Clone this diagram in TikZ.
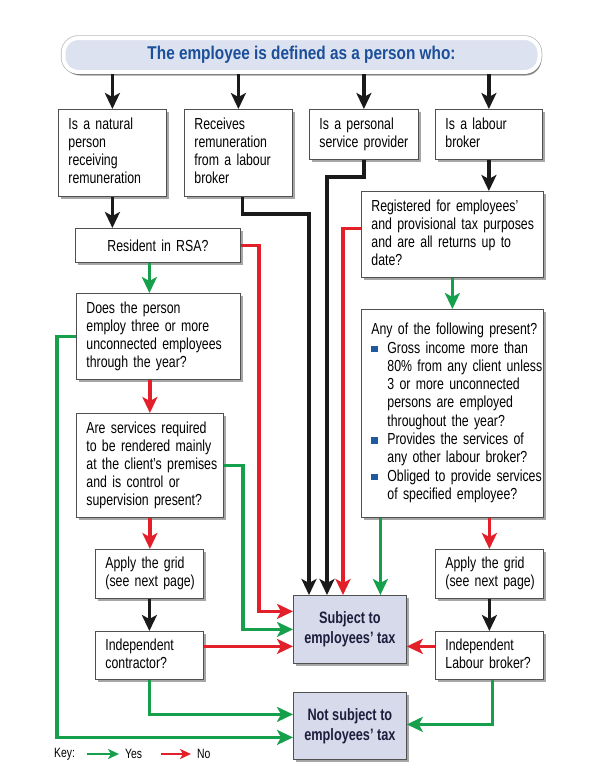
\documentclass[tikz,border=0pt]{standalone}
\usepackage{fontspec}
\setmainfont[FakeStretch=0.77]{Liberation Sans}
\newfontfamily\titlefont[FakeStretch=0.83]{Liberation Sans}
\usetikzlibrary{arrows.meta,shadows,calc}
\definecolor{gr}{HTML}{17A04B}
\definecolor{rd}{HTML}{E3202A}
\definecolor{bk}{HTML}{1A1A1A}
\definecolor{ttl}{HTML}{1B4F9A}
\definecolor{banfill}{HTML}{DDE2F0}
\definecolor{subfill}{HTML}{D6DAEB}
\definecolor{bulc}{HTML}{1F5AA0}
\definecolor{edge}{HTML}{505050}
\definecolor{navy}{HTML}{1D1D3D}
\newcommand\mybul{\makebox[16pt][l]{\raisebox{1pt}{\textcolor{bulc}{\rule{6.5pt}{6.5pt}}}}}
\newcommand\tb[1]{\begin{tabular}{@{}l@{}}#1\end{tabular}}
\begin{document}
\begin{tikzpicture}[x=1pt,y=-1pt,
  box/.style={draw=edge, line width=0.8pt, fill=white, anchor=north west,
    inner xsep=10pt, inner ysep=0pt, align=left,
    font=\fontsize{16}{18}\selectfont,
    drop shadow={shadow xshift=2.5pt, shadow yshift=-2.5pt, opacity=0.35, fill=black}},
  sbox/.style={draw=edge, line width=0.8pt, fill=subfill, anchor=north west,
    inner sep=0pt, align=center, text=navy,
    font=\bfseries\fontsize{16.5}{20}\selectfont,
    drop shadow={shadow xshift=2.5pt, shadow yshift=-2.5pt, opacity=0.35, fill=black}},
  arr/.style={line width=3.6pt, line join=miter, -{Stealth[length=16pt,width=15pt,inset=4pt]}},
  karr/.style={line width=2.8pt, -{Stealth[length=11pt,width=10pt,inset=3pt]}},
  keytxt/.style={font=\fontsize{13.5}{15}\selectfont, inner sep=0pt, anchor=west}
]
\useasboundingbox (0,0) rectangle (590,769);

% banner
\node[draw=white, line width=4pt, fill=banfill, rounded corners=15pt,
  preaction={draw=gray!55, line width=5.5pt},
  drop shadow={shadow xshift=1.5pt, shadow yshift=-3.5pt, opacity=0.4, fill=black},
  minimum width=476pt, minimum height=34pt, inner sep=0pt,
  font=\titlefont\bfseries\fontsize{18.5}{20}\selectfont, text=ttl]
  (ban) at (301.5,55) {The employee is defined as a person who:};

% top row
\node[box, minimum width=108pt, minimum height=87pt, text width=88pt] (b1) at (58,109)
  {\tb{Is a natural\\person\\receiving\\remuneration}};
\node[box, minimum width=108pt, minimum height=87pt, text width=88pt] (b2) at (184,109)
  {\tb{Receives\\remuneration\\from a labour\\broker}};
\node[box, minimum width=109pt, minimum height=50pt, text width=89pt] (b3) at (309,109)
  {\tb{Is a personal\\service provider}};
\node[box, minimum width=107pt, minimum height=50pt, text width=87pt] (b4) at (435,109)
  {\tb{Is a labour\\broker}};

% left column
\node[box, minimum width=165pt, minimum height=34pt, text width=145pt, align=center] (res) at (75,228)
  {Resident in RSA?};
\node[box, minimum width=164pt, minimum height=86pt, text width=144pt] (does) at (76,293)
  {\tb{Does the person\\employ three or more\\unconnected employees\\through the year?}};
\node[box, minimum width=147pt, minimum height=104pt, text width=127pt] (are) at (76,413)
  {\tb{Are services required\\to be rendered mainly\\at the client’s premises\\and is control or\\supervision present?}};
\node[box, minimum width=108pt, minimum height=49pt, text width=88pt] (ag1) at (95,549)
  {\tb{Apply the grid\\(see next page)}};
\node[box, minimum width=108pt, minimum height=48pt, text width=88pt] (ind1) at (95,631)
  {\tb{Independent\\contractor?}};

% right column
\node[box, minimum width=182pt, minimum height=86pt, text width=162pt] (reg) at (361,191)
  {\tb{Registered for employees’\\and provisional tax purposes\\and are all returns up to\\date?}};
\node[box, minimum width=182pt, minimum height=208pt, text width=162pt,
  font=\fontsize{16}{18.3}\selectfont] (any) at (361,309)
  {\begin{tabular}{@{}l@{}l@{}}
   \multicolumn{2}{@{}l@{}}{Any of the following present?}\\
   \mybul & Gross income more than\\
   & 80\% from any client unless\\
   & 3 or more unconnected\\
   & persons are employed\\
   & throughout the year?\\
   \mybul & Provides the services of\\
   & any other labour broker?\\
   \mybul & Obliged to provide services\\
   & of specified employee?
   \end{tabular}};
\node[box, minimum width=108pt, minimum height=49pt, text width=88pt] (ag2) at (435,549)
  {\tb{Apply the grid\\(see next page)}};
\node[box, minimum width=108pt, minimum height=48pt, text width=88pt] (ind2) at (435,631)
  {\tb{Independent\\Labour broker?}};

% outcomes
\node[sbox, minimum width=113pt, minimum height=68pt] (sub) at (293,595)
  {Subject to\\employees’ tax};
\node[sbox, minimum width=113pt, minimum height=67pt] (nsub) at (293,692)
  {Not subject to\\employees’ tax};

% arrows from banner
\draw[arr,bk] (ban.south -| b1.north) -- (b1.north);
\draw[arr,bk] (ban.south -| b2.north) -- (b2.north);
\draw[arr,bk] (ban.south -| b3.north) -- (b3.north);
\draw[arr,bk] (ban.south -| b4.north) -- (b4.north);

% top row connectors
\draw[arr,bk] (b1.south) -- (b1.south |- res.north);
\draw[arr,bk] ([xshift=4pt]b2.south) -- ++(0,17) -| ([xshift=16pt]sub.north west);
\draw[arr,bk] (b3.south) -- ++(0,17) -| ([xshift=34pt]sub.north west);
\draw[arr,bk] (b4.south) -- (b4.south |- reg.north);

% left column connectors
\draw[arr,rd] (res.east) -- ++(18,0) |- ([yshift=18pt]sub.west);
\draw[arr,gr] ([xshift=-8.5pt]res.south) -- ([xshift=-8.5pt]res.south |- does.north);
\draw[arr,gr] (does.west) -- ++(-19,0) |- ([yshift=-11.5pt]nsub.west);
\draw[arr,rd] (does.south -| are.north) -- (are.north);
\draw[arr,gr] (are.east) -- ++(19,0) |- (sub.west);
\draw[arr,rd] (are.south) -- (are.south |- ag1.north);
\draw[arr,bk] (ag1.south) -- (ag1.south |- ind1.north);
\draw[arr,rd] ([yshift=9pt]ind1.east) -- ([yshift=9pt]ind1.east -| sub.west);
\draw[arr,gr] (ind1.south) |- ([yshift=11.5pt]nsub.west);

% right column connectors
\draw[arr,rd] ([yshift=6pt]reg.west) -| ([xshift=50pt]sub.north west);
\draw[arr,gr] (reg.south) -- (reg.south |- any.north);
\draw[arr,gr] ([xshift=-72pt]any.south) -- ([xshift=-72pt]any.south |- sub.north);
\draw[arr,rd] (any.south -| ag2.north) -- (ag2.north);
\draw[arr,bk] (ag2.south) -- (ag2.south |- ind2.north);
\draw[arr,rd] ([yshift=9pt]ind2.west) -- ([yshift=9pt]ind2.west -| sub.east);
\draw[arr,gr] ([xshift=3pt]ind2.south) |- ([yshift=1.5pt]nsub.east);

% key
\node[keytxt] (key) at (54,754) {Key:};
\node[keytxt] (yes) at (125,754) {Yes};
\node[keytxt] (no) at (197,754) {No};
\draw[karr,gr] ([xshift=12pt]key.east) -- ([xshift=-6pt]yes.west);
\draw[karr,rd] ([xshift=19pt]yes.east) -- ([xshift=-6pt]no.west);
\end{tikzpicture}
\end{document}
